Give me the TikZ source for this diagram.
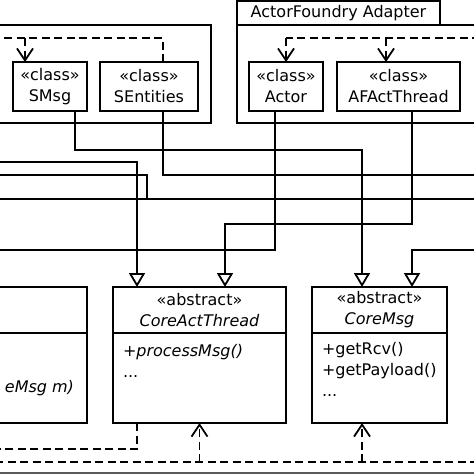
\documentclass[tikz,border=0pt]{standalone}
\usepackage{fontspec}
\setmainfont{DejaVu Sans}
\usetikzlibrary{positioning}
\usetikzlibrary{arrows.meta}

\begin{document}
\begin{tikzpicture}[x=1pt, y=-1pt, line width=1.8pt,
	every node/.style={font=\fontsize{16}{21}\selectfont, outer sep=0pt},
	cls/.style={draw, align=center, minimum height=49pt, inner sep=0pt},
	head/.style={draw, align=center, minimum height=46pt, inner sep=0pt},
	body/.style={draw, minimum height=90pt, inner sep=0pt},
	ops/.style={anchor=north west, align=left, inner sep=0pt},
	gen/.style={-{Triangle[open, length=14pt, width=16pt]}},
	dashline/.style={dash pattern=on 8pt off 4.5pt},
	dep/.style={dash pattern=on 8pt off 4.5pt, -{Straight Barb[length=12pt, width=16pt]}}]
	\useasboundingbox (0,0) rectangle (474,474);
	\clip (0,0) rectangle (474,474);
	\coordinate (w1) at (-5,38);
	\coordinate (w2) at (-5,162);
	\coordinate (w3) at (-5,175);
	\coordinate (w4) at (-5,199);
	\coordinate (w5) at (-5,250);
	\coordinate (w6) at (-5,449);
	\coordinate (w7) at (-5,462);
	\coordinate (e1) at (480,38);
	\coordinate (e2) at (480,175);
	\coordinate (e3) at (480,199);
	\coordinate (e4) at (480,250);
	\coordinate (e5) at (480,462);
	\coordinate (bend) at (147,199);

	\draw (-10,25) rectangle (211,123);
	\node[draw, minimum width=203pt, minimum height=24pt, inner sep=0pt, anchor=north west] (tab) at (237,1) {ActorFoundry Adapter};
	\draw (tab.south west) rectangle (480,123);

	\node[cls, minimum width=74pt] (smsg) at (50,86.5) {«class»\\SMsg};
	\node[cls, minimum width=98pt] (sentities) at (149,86.5) {«class»\\SEntities};
	\node[cls, minimum width=74pt] (actor) at (286,86.5) {«class»\\Actor};
	\node[cls, minimum width=123pt] (afactthread) at (398.5,86.5) {«class»\\AFActThread};

	\node[head, minimum width=120pt, anchor=north east] (proc) at (87,287) {};
	\node[body, minimum width=120pt, below=0pt of proc] (procbody) {};
	\node[anchor=base east, inner sep=0pt] (procops) at (74,392) {\textit{eMsg m)}};

	\node[head, minimum width=173pt] (coreactthread) at (199.5,310) {«abstract»\\\textit{CoreActThread}};
	\node[body, minimum width=173pt, below=0pt of coreactthread] (catbody) {};
	\node[ops] (catops) at ([shift={(10,11)}]catbody.north west) {\textit{+processMsg()}\\...};

	\node[head, minimum width=135pt] (coremsg) at (379.5,310) {«abstract»\\\textit{CoreMsg}};
	\node[body, minimum width=135pt, below=0pt of coremsg] (cmbody) {};
	\node[ops] (cmops) at ([shift={(10,9)}]cmbody.north west) {+getRcv()\\+getPayload()\\...};

	\draw[dashline] ([xshift=14pt]sentities.north) |- (w1);
	\draw[dep] ([xshift=-25pt]smsg.north |- w1) -- ([xshift=-25pt]smsg.north);
	\draw[dashline] (e1) -- (actor.north |- e1);
	\draw[dep] (actor.north |- e1) -- (actor.north);
	\draw[dep] ([xshift=-12.5pt]afactthread.north |- e1) -- ([xshift=-12.5pt]afactthread.north);

	\draw[gen] ([xshift=25pt]smsg.south) |- (362,150) -- ([xshift=-17.5pt]coremsg.north);
	\draw ([xshift=14pt]sentities.south) |- (e2);
	\draw ([xshift=-11pt]actor.south) |- (w5);
	\draw[gen] ([xshift=13.5pt]afactthread.south) |- (225,224) -- ([xshift=25.5pt]coreactthread.north);
	\draw[gen] (w2) -| ([xshift=-62.5pt]coreactthread.north);
	\draw (w3) -| (bend);
	\draw (w4) -- (e3);
	\draw[gen] (e4) -| ([xshift=32.5pt]coremsg.north);

	\draw[dashline] ([xshift=-62.5pt]catbody.south) |- (w6);
	\draw[dashline] (w7) -- (e5);
	\draw[dep] (catbody.south |- w7) -- (catbody.south);
	\draw[dep] ([xshift=-17.5pt]cmbody.south |- w7) -- ([xshift=-17.5pt]cmbody.south);

	\draw[black!65, line width=5pt] (-5,474) -- (480,474);
\end{tikzpicture}
\end{document}
